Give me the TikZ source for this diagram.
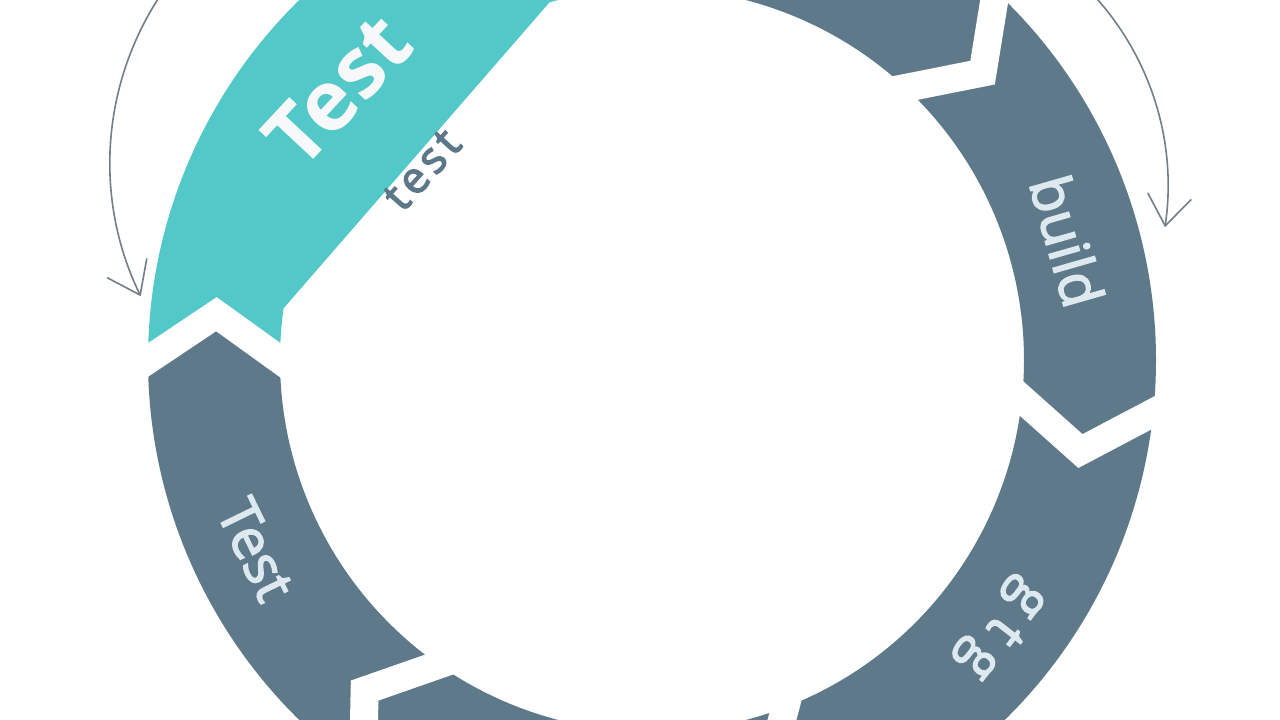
\documentclass[tikz,border=0pt]{standalone}
\usepackage{fontspec}
\setmainfont{Open Sans}
\usetikzlibrary{arrows.meta,calc}

\definecolor{slate}{HTML}{5E7A8A}
\definecolor{aqua}{HTML}{53C8C8}
\definecolor{pale}{HTML}{DDE8EF}
\definecolor{ink}{HTML}{5B7788}
\definecolor{wire}{HTML}{737F88}

\tikzset{
  ringpiece/.style={fill=slate},
  gapline/.style={draw=white, line width=28bp, line join=miter},
  ringlabel/.style={text=pale, inner sep=0pt},
  cyclearrow/.style={draw=wire, line width=1.6bp, -{Straight Barb[length=30bp,width=44bp]}}
}

\begin{document}
\begin{tikzpicture}[x=1bp,y=1bp]
  \fill[white] (0,0) rectangle (1280,720);
  \useasboundingbox (0,0) rectangle (1280,720);

  \begin{scope}[shift={(652,360)}]
    % grey pieces, trailing angle / leading angle
    \foreach \a/\b in {100/47,47/-6,-6/-69,-69/-125,-125/-180}
    {
      \fill[ringpiece] (\a:504) arc[start angle=\a, end angle=\b, radius=504]
        -- (\b-6:438) -- (\b:372) arc[start angle=\b, end angle=\a, radius=372]
        -- (\a-6:438) -- cycle;
    }

    % highlighted piece
    \fill[aqua] (180:504) arc[start angle=180, end angle=100, radius=504]
      -- (94:438) -- (100:372) arc[start angle=100, end angle=106, radius=372]
      -- (172:372) arc[start angle=172, end angle=180, radius=372]
      -- (174:438) -- cycle;

    % white cuts
    \foreach \j in {100,47,-6,-69,-125,-180}
    {
      \draw[gapline] ($(\j-6:438)!1.5!(\j:372)$) -- (\j-6:438) -- ($(\j-6:438)!1.5!(\j:504)$);
    }

    \node[ringlabel, rotate=-74, font={\fontsize{57}{60}\selectfont\addfontfeature{FakeBold=2.5}}] (build) at (16:432) {build};
    \node[ringlabel, rotate=-128, font={\fontsize{56}{58}\selectfont\addfontfeature{LetterSpace=25,FakeBold=2.5}}] (gtg) at (-37.6:440) {gtg};
    \node[ringlabel, rotate=-64, font={\fontsize{56}{58}\selectfont\addfontfeature{FakeBold=2.5}}] (testgrey) at (205.6:439) {Test};
    \node[ringlabel, text=white!95!slate, rotate=47, font=\bfseries\fontsize{84}{86}\selectfont] (testaqua) at (139.3:414) {Test};
    \node[inner sep=0pt, text=ink, rotate=48, font={\fontsize{44}{46}\selectfont\addfontfeature{LetterSpace=11,FakeBold=3}}] (testink) at (140.4:298) {test};
  \end{scope}

  \coordinate (lfrom) at ($(414,557)+(140:304)$);
  \coordinate (rfrom) at ($(886,534)+(50:282)$);
  \draw[cyclearrow] (lfrom) arc[start angle=140, end angle=206, radius=304];
  \draw[cyclearrow] (rfrom) arc[start angle=50, end angle=-8.4, radius=282];
\end{tikzpicture}
\end{document}
